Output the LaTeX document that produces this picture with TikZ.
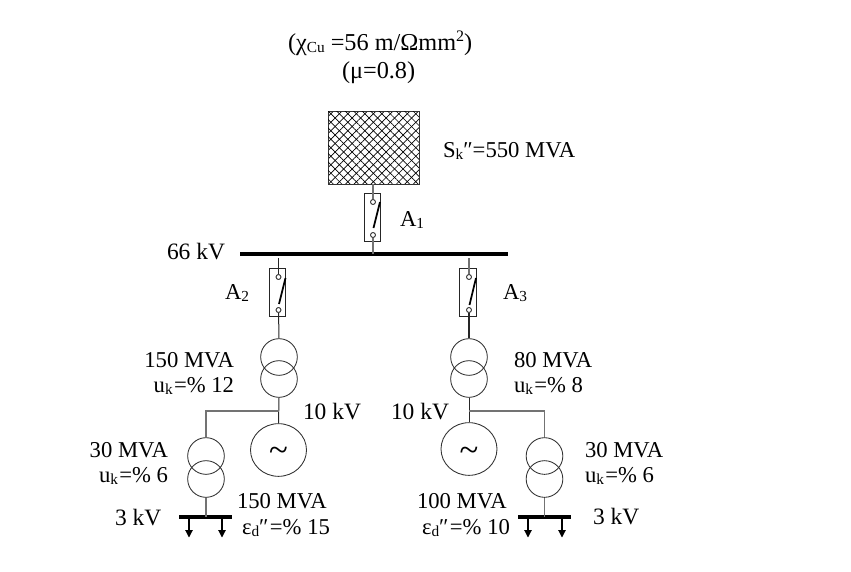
\documentclass[tikz,border=0pt]{standalone}
\usepackage{fontspec}
\setmainfont{Liberation Serif}
\usetikzlibrary{patterns.meta,arrows.meta,shapes.geometric}
\newcommand{\subt}[1]{\raisebox{-2.2pt}{\fontsize{11.5}{12}\selectfont #1}}
\newcommand{\supt}[1]{\raisebox{6.5pt}{\fontsize{12}{12}\selectfont #1}}
\tikzset{
  lbl/.style={inner sep=0pt,outer sep=0pt,font=\fontsize{17}{18}\selectfont},
  lblb/.style={inner sep=0pt,outer sep=0pt,font=\fontsize{17.6}{18}\selectfont},
  lblc/.style={inner sep=0pt,outer sep=0pt,font=\fontsize{18.2}{18}\selectfont},
  thinw/.style={draw=black!85,line width=0.75pt},
  greyw/.style={draw=black!55,line width=1.1pt},
  busbar/.style={fill=black,draw=none,inner sep=0pt,minimum height=3.4pt},
  swbox/.style={draw=black!85,line width=0.7pt,fill=none,inner sep=0pt,minimum width=12.4pt,minimum height=36pt},
  term/.style={circle,draw=black!80,line width=0.6pt,fill=white,inner sep=0pt,minimum size=3.6pt},
  blade/.style={draw=black,line width=1.3pt},
  wind/.style={circle,draw=black!80,line width=0.65pt,inner sep=0pt,minimum size=27.5pt},
  gen/.style={ellipse,draw=black!80,line width=0.65pt,inner sep=0pt,minimum width=42pt,minimum height=39.5pt},
  tild/.style={inner sep=0pt,outer sep=0pt,font=\fontsize{26}{26}\selectfont},
  load/.style={draw=black,line width=0.8pt,-{Triangle[length=5.5pt,width=5.5pt]}},
}
\begin{document}
\begin{tikzpicture}[x=0.75pt,y=-0.75pt]
\useasboundingbox (0,0) rectangle (851,572);
% source
\node[draw=black!80,line width=0.7pt,minimum width=68.2pt,minimum height=54.7pt,inner sep=0pt,
  pattern={Lines[angle=45,distance=4.5pt,line width=0.5pt]}] (grid) at (373.5,147.5) {};
\node[minimum width=68.2pt,minimum height=54.7pt,inner sep=0pt,
  pattern={Lines[angle=-45,distance=4.5pt,line width=0.5pt]}] at (373.5,147.5) {};
% buses
\node[busbar,minimum width=201pt] (bus) at (374,254) {};
\node[busbar,minimum width=40pt] (busL) at (205.5,517) {};
\node[busbar,minimum width=40pt] (busR) at (544.5,517) {};
% switches
\node[swbox] (sw1) at (372.5,217.5) {};
\node[term] (a1t) at (373,202) {};
\node[term] (a1b) at (373,235) {};
\coordinate (a1j) at (373,254);
\node[swbox] (sw2) at (277.5,292) {};
\node[term] (a2t) at (278.5,277) {};
\node[term] (a2b) at (278.5,310) {};
\coordinate (a2j) at (278.5,258);
\node[swbox] (sw3) at (468,292) {};
\node[term] (a3t) at (469,277) {};
\node[term] (a3b) at (469,310) {};
\coordinate (a3j) at (469,258);
\draw[blade] (380,202) -- (373.5,228);
\draw[blade] (285.5,278) -- (279,304);
\draw[blade] (476,278) -- (469.5,305);
% transformers
\node[wind] (t1a) at (279,357) {};
\node[wind] (t1b) at (279,379) {};
\node[wind] (t2a) at (469,357) {};
\node[wind] (t2b) at (469,379) {};
\node[wind] (t3a) at (206,456) {};
\node[wind] (t3b) at (206,479) {};
\node[wind] (t4a) at (544.5,456) {};
\node[wind] (t4b) at (544.5,479) {};
% generators
\node[gen] (g1) at (278.5,450) {};
\node[gen] (g2) at (469,449) {};
\node[tild] (tl1) at (278.5,454) {\string~};
\node[tild] (tl2) at (469,454) {\string~};
% junctions
\coordinate (j1) at (278.5,411);
\coordinate (j2) at (469,411);
\coordinate (l1) at (189,518);
\coordinate (l2) at (222,518);
\coordinate (l3) at (528,518);
\coordinate (l4) at (562,518);
\coordinate (e1) at (189,537.5);
\coordinate (e2) at (222,537.5);
\coordinate (e3) at (528,537.5);
\coordinate (e4) at (562,537.5);
% connectors
\draw[greyw] (grid.south -| a1t) -- (a1t);
\draw[greyw] (a1b) -- (a1j);
\draw[thinw] (a2j) -- (a2t);
\draw[thinw] (a2b) -- (t1a.north);
\draw[greyw] (a3j) -- (a3t);
\draw[thinw,line width=1pt] (a3b) -- (t2a.north);
\draw[thinw] (t1b.south) -- (g1.north);
\draw[thinw] (t2b.south) -- (g2.north);
\draw[greyw] (j1) -| (t3a.north);
\draw[greyw] (j2) -| (t4a.north);
\draw[greyw] (t3b.south) -- (t3b.south |- busL);
\draw[greyw] (t4b.south) -- (t4b.south |- busR);
\draw[load] (l1) -- (e1);
\draw[load] (l2) -- (e2);
\draw[load] (l3) -- (e3);
\draw[load] (l4) -- (e4);
% redraw terminals on top
\node[term] at (a1t) {};
\node[term] at (a1b) {};
\node[term] at (a2t) {};
\node[term] at (a2b) {};
\node[term] at (a3t) {};
\node[term] at (a3b) {};
% labels
\node[lblc,anchor=base west] (tx1) at (288,50) {(χ\subt{Cu} =56 m/Ωmm\supt{2})};
\node[lblc,anchor=base west] (tx2) at (342,78) {(μ=0.8)};
\node[lbl,anchor=base west] (tx3) at (443,157) {S\subt{k}″=550 MVA};
\node[lbl,anchor=base west] (tx4) at (400,226) {A\subt{1}};
\node[lblb,anchor=base west] (tx5) at (167,259) {66 kV};
\node[lbl,anchor=base west] (tx6) at (225,299) {A\subt{2}};
\node[lbl,anchor=base west] (tx7) at (503,299) {A\subt{3}};
\node[lbl,anchor=base east] (tx8) at (234,367) {150 MVA};
\node[lbl,anchor=base east] (tx9) at (234,392) {u\subt{k}\kern1pt=\% 12};
\node[lbl,anchor=base west] (tx10) at (514,367) {80 MVA};
\node[lbl,anchor=base west] (tx11) at (514,392) {u\subt{k}\kern1pt=\% 8};
\node[lblb,anchor=base west] (tx12) at (303,419) {10 kV};
\node[lblb,anchor=base west] (tx13) at (391,419) {10 kV};
\node[lbl,anchor=base east] (tx14) at (168,457) {30 MVA};
\node[lbl,anchor=base east] (tx15) at (168,482) {u\subt{k}\kern1pt=\% 6};
\node[lbl,anchor=base west] (tx16) at (585,457) {30 MVA};
\node[lbl,anchor=base west] (tx17) at (585,482) {u\subt{k}\kern1pt=\% 6};
\node[lbl,anchor=base west] (tx18) at (237,508) {150 MVA};
\node[lbl,anchor=base west] (tx19) at (242,534) {ε\subt{d}″\kern1pt=\% 15};
\node[lbl,anchor=base west] (tx20) at (417,508) {100 MVA};
\node[lbl,anchor=base west] (tx21) at (422,534) {ε\subt{d}″\kern1pt=\% 10};
\node[lblb,anchor=base west] (tx22) at (115,525) {3 kV};
\node[lblb,anchor=base west] (tx23) at (593,524) {3 kV};
\end{tikzpicture}
\end{document}
